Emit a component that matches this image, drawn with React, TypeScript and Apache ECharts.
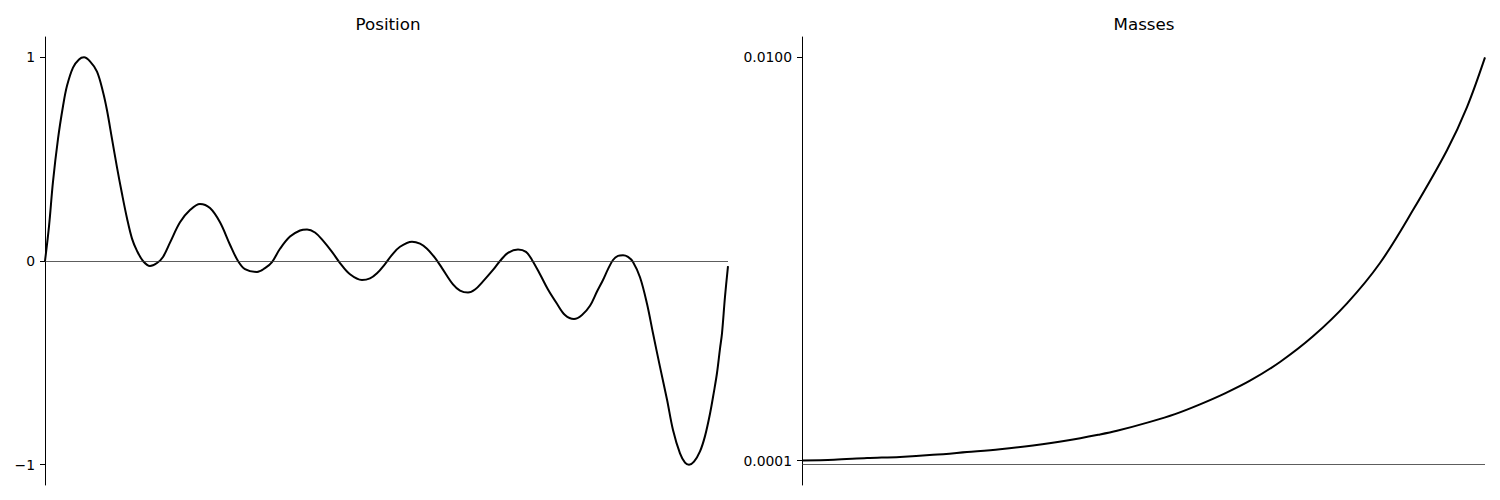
import React, { useEffect, useRef } from 'react';
import * as echarts from 'echarts';

// left panel: displacement (x in plot-width units 0..683)
const positionX = [
  0, 4, 8, 13, 18, 22, 28, 34, 39, 45, 52, 58, 62, 67, 72, 77, 82, 87, 92, 98,
  105, 112, 118, 125, 135, 145, 155, 165, 175, 185, 193, 200, 212, 220, 227, 235,
  245, 255, 262, 270, 278, 287, 295, 305, 317, 325, 332, 340, 347, 355, 367, 375,
  382, 390, 397, 408, 415, 423, 430, 438, 448, 455, 463, 473, 481, 487, 495, 503,
  512, 520, 529, 537, 545, 552, 558, 563, 568, 573, 578, 583, 588, 595, 602, 608,
  615, 622, 628, 635, 640, 644, 649, 655, 660, 665, 669, 672, 675, 677, 680, 683,
];
const positionY = [
  0, 0.17, 0.39, 0.6, 0.76, 0.86, 0.95, 0.99, 1.0, 0.98, 0.93, 0.83, 0.74, 0.6, 0.46,
  0.33, 0.21, 0.11, 0.05, 0.0, -0.025, -0.01, 0.02, 0.09, 0.19, 0.25, 0.28, 0.26,
  0.19, 0.08, 0.0, -0.04, -0.054, -0.035, -0.005, 0.06, 0.12, 0.15, 0.155, 0.14, 0.1,
  0.045, -0.01, -0.065, -0.093, -0.085, -0.06, -0.015, 0.03, 0.07, 0.095, 0.085,
  0.06, 0.015, -0.035, -0.115, -0.145, -0.155, -0.14, -0.1, -0.044, 0.0, 0.04,
  0.057, 0.045, 0.005, -0.065, -0.14, -0.21, -0.265, -0.285, -0.265, -0.22, -0.15,
  -0.093, -0.04, 0.005, 0.025, 0.028, 0.02, -0.005, -0.08, -0.21, -0.355, -0.52,
  -0.68, -0.83, -0.945, -0.99, -1.0, -0.985, -0.935, -0.86, -0.75, -0.64, -0.55,
  -0.43, -0.355, -0.175, -0.025,
];
const positionTicks = [-1, 0, 1];

// right panel: masses along the chain
const massX = [
  0, 32, 65, 98, 131, 165, 198, 231, 265, 298, 315, 348, 373, 398, 423, 448, 478,
  511, 545, 578, 611, 645, 665, 683,
];
const massY = [
  0.0001, 0.00012, 0.00016, 0.00019, 0.00024, 0.00031, 0.00038, 0.00047, 0.00059,
  0.00074, 0.00083, 0.00105, 0.00124, 0.00148, 0.00175, 0.00206, 0.00252, 0.00315,
  0.00396, 0.00495, 0.00625, 0.00772, 0.00878, 0.01,
];
const massTicks = [0.0001, 0.01];

const FONT = 'DejaVu Sans';

export default function App() {
  const chartRef = useRef<HTMLDivElement>(null);

  useEffect(() => {
    const chart = echarts.init(chartRef.current!, null, { renderer: 'svg' });

    const zeroLine = {
      silent: true,
      symbol: 'none',
      label: { show: false },
      lineStyle: { color: '#333', width: 0.8, type: 'solid' },
      data: [{ yAxis: 0 }],
    };

    const yAxisBase = {
      type: 'value',
      splitLine: { show: false },
      axisLine: { show: true, onZero: false, lineStyle: { color: '#000', width: 1 } },
      axisTick: { show: true, inside: false, length: 5, lineStyle: { color: '#000' } },
    };

    const titleStyle = { fontFamily: FONT, fontSize: 16.7, fontWeight: 'normal', color: '#000' };
    const labelStyle = { margin: 10, color: '#000', fontSize: 13.9, fontFamily: FONT };

    chart.setOption({
      animation: false,
      textStyle: { fontFamily: FONT },
      title: [
        { text: 'Position', left: 383, top: 10, textAlign: 'center', textStyle: titleStyle },
        { text: 'Masses', left: 1139, top: 10, textAlign: 'center', textStyle: titleStyle },
      ],
      grid: [
        { left: 45, right: 772, top: 37, bottom: 15 },
        { left: 802, right: 15, top: 37, bottom: 15 },
      ],
      xAxis: [
        { type: 'value', gridIndex: 0, min: 0, max: 683, show: false },
        { type: 'value', gridIndex: 1, min: 0, max: 683, show: false },
      ],
      yAxis: [
        {
          ...yAxisBase,
          gridIndex: 0,
          min: -1.1,
          max: 1.1,
          axisTick: { ...yAxisBase.axisTick, customValues: positionTicks },
          axisLabel: {
            ...labelStyle,
            customValues: positionTicks,
            formatter: (v: number) => (v < 0 ? '\u2212' + Math.abs(v) : String(v)),
          },
        },
        {
          ...yAxisBase,
          gridIndex: 1,
          min: -0.0005,
          max: 0.0105,
          axisTick: { ...yAxisBase.axisTick, customValues: massTicks },
          axisLabel: {
            ...labelStyle,
            customValues: massTicks,
            formatter: (v: number) => v.toFixed(4),
          },
        },
      ],
      series: [
        {
          type: 'line',
          xAxisIndex: 0,
          yAxisIndex: 0,
          data: positionX.map((x, i) => [x, positionY[i]]),
          showSymbol: false,
          smooth: 0.35,
          lineStyle: { color: '#000', width: 2 },
          markLine: zeroLine,
        },
        {
          type: 'line',
          xAxisIndex: 1,
          yAxisIndex: 1,
          data: massX.map((x, i) => [x, massY[i]]),
          showSymbol: false,
          smooth: 0.35,
          lineStyle: { color: '#000', width: 2 },
          markLine: zeroLine,
        },
      ],
    });

    const observer = new ResizeObserver(() => chart.resize());
    if (chartRef.current) observer.observe(chartRef.current);

    return () => {
      observer.disconnect();
      chart.dispose();
    };
  }, []);

  return (
    <div
      ref={chartRef}
      style={{ position: 'fixed', left: 0, top: 0, width: 1500, height: 500, background: '#fff' }}
    />
  );
}
